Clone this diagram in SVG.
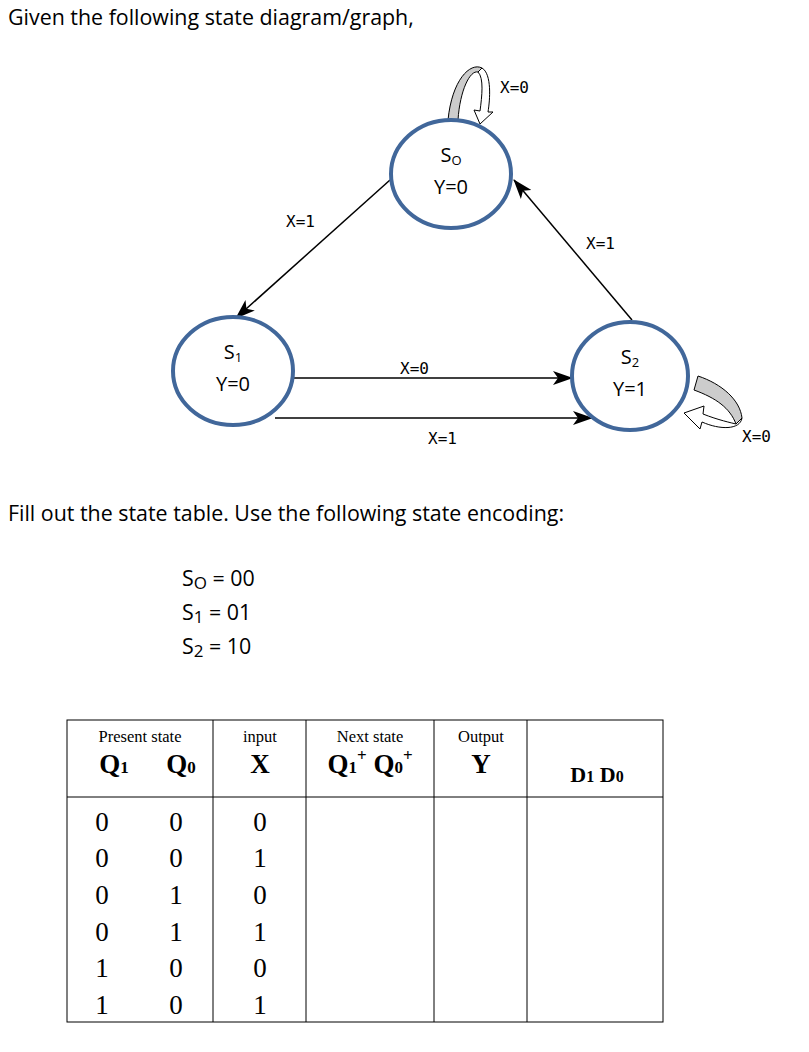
<svg xmlns="http://www.w3.org/2000/svg" width="809" height="1052" viewBox="0 0 809 1052">
<style>
.t{font-family:"Open Sans","Liberation Sans",sans-serif;font-size:21.4px;fill:#000}
.c{font-family:"Open Sans","Liberation Sans",sans-serif;font-size:20px;fill:#000;text-anchor:middle}
.m{font-family:"DejaVu Sans Mono","Liberation Mono",monospace;font-size:16px;fill:#000}
.n{fill:#fff;stroke:#41679a;stroke-width:4}
.e{stroke:#000;stroke-width:1.5;fill:none;marker-end:url(#a)}
.s{font-family:"Liberation Serif",serif;fill:#000;text-anchor:middle}
.g{fill:none;stroke:#000;stroke-width:1}
.lp{fill:#ccc;stroke:#000;stroke-width:1}
</style>
<defs><marker id="a" viewBox="0 0 20 14" refX="19" refY="7" markerWidth="20" markerHeight="14" markerUnits="userSpaceOnUse" orient="auto"><path d="M0,0 L20,7 L0,14 L5,7 Z" fill="#000"/></marker></defs>
<rect width="809" height="1052" fill="#fff"/>
<text class="t" x="8" y="25">Given the following state diagram/graph,</text>
<g id="connectors">
<line class="e" x1="390" y1="180" x2="236" y2="318"/>
<line class="e" x1="632" y1="320" x2="514" y2="180"/>
<line class="e" x1="293" y1="378" x2="572" y2="378"/>
<line class="e" x1="275" y1="418" x2="592" y2="418"/>
<path class="lp" d="M448,120 C452,80 470,62 482,68 L478,72 C470,70 460,90 458,120 Z"/>
<path fill="#fff" stroke="#000" d="M482,68 C492,74 490,100 488,112 L493,112 L480,124 L474,110 L480,111 C482,96 484,78 478,72 Z"/>
<path class="lp" d="M698,376 C722,384 740,400 742,418 L736,424 C730,408 716,398 694,390 Z"/>
<path fill="#fff" stroke="#000" d="M742,418 C740,430 720,430 702,422 L700,429 L684,413 L704,406 L703,414 C718,420 732,423 736,424 Z"/>
<text class="m" x="500" y="93">X=0</text>
<text class="m" x="286" y="227">X=1</text>
<text class="m" x="586" y="249">X=1</text>
<text class="m" x="400" y="374">X=0</text>
<text class="m" x="428" y="444">X=1</text>
<text class="m" x="742" y="442">X=0</text>
</g>
<g id="S0"><ellipse class="n" cx="451" cy="174" rx="60" ry="54"/><text class="c" x="451" y="162">S<tspan font-size="13" dy="3">O</tspan></text><text class="c" x="451" y="194">Y=0</text></g>
<g id="S1"><ellipse class="n" cx="233" cy="371" rx="60" ry="54"/><text class="c" x="233" y="359">S<tspan font-size="13" dy="3">1</tspan></text><text class="c" x="233" y="391">Y=0</text></g>
<g id="S2"><ellipse class="n" cx="630" cy="376" rx="58" ry="54"/><text class="c" x="630" y="364">S<tspan font-size="13" dy="3">2</tspan></text><text class="c" x="630" y="396">Y=1</text></g>
<text class="t" x="8" y="521" font-size="22.7">Fill out the state table. Use the following state encoding:</text>
<text class="t" x="182" y="586" font-size="26">S<tspan font-size="17" dy="3">O</tspan><tspan dy="-3"> = 00</tspan></text>
<text class="t" x="182" y="620" font-size="26">S<tspan font-size="17" dy="3">1</tspan><tspan dy="-3"> = 01</tspan></text>
<text class="t" x="182" y="654" font-size="26">S<tspan font-size="17" dy="3">2</tspan><tspan dy="-3"> = 10</tspan></text>
<g id="table">
<rect class="g" x="67" y="720" width="596" height="302"/>
<line class="g" x1="67" y1="797" x2="663" y2="797"/>
<line class="g" x1="213" y1="720" x2="213" y2="1022"/>
<line class="g" x1="306" y1="720" x2="306" y2="1022"/>
<line class="g" x1="434" y1="720" x2="434" y2="1022"/>
<line class="g" x1="527" y1="720" x2="527" y2="1022"/>
<text class="s" x="140" y="742" font-size="16.5">Present state</text>
<text class="s" x="260" y="742" font-size="16.5">input</text>
<text class="s" x="370" y="742" font-size="16.5">Next state</text>
<text class="s" x="481" y="742" font-size="16.5">Output</text>
<g font-weight="bold" font-size="27">
<text class="s" x="114" y="773">Q<tspan font-size="17">1</tspan></text>
<text class="s" x="181" y="773">Q<tspan font-size="17">0</tspan></text>
<text class="s" x="260" y="773">X</text>
<text class="s" x="370" y="773">Q<tspan font-size="17">1</tspan><tspan font-size="17" dy="-12">+</tspan><tspan dy="12"> Q</tspan><tspan font-size="17">0</tspan><tspan font-size="17" dy="-12">+</tspan></text>
<text class="s" x="481" y="773">Y</text>
<text class="s" x="597" y="782" font-size="22">D<tspan font-size="16">1</tspan>  D<tspan font-size="16">0</tspan></text>
</g>
<g font-size="27">
<text class="s" x="102" y="831">0</text><text class="s" x="176" y="831">0</text><text class="s" x="260" y="831">0</text>
<text class="s" x="102" y="867">0</text><text class="s" x="176" y="867">0</text><text class="s" x="260" y="867">1</text>
<text class="s" x="102" y="904">0</text><text class="s" x="176" y="904">1</text><text class="s" x="260" y="904">0</text>
<text class="s" x="102" y="941">0</text><text class="s" x="176" y="941">1</text><text class="s" x="260" y="941">1</text>
<text class="s" x="102" y="977">1</text><text class="s" x="176" y="977">0</text><text class="s" x="260" y="977">0</text>
<text class="s" x="102" y="1014">1</text><text class="s" x="176" y="1014">0</text><text class="s" x="260" y="1014">1</text>
</g>
</g>
</svg>
